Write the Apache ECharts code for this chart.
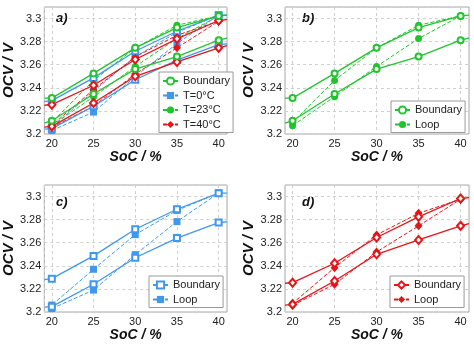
<!DOCTYPE html>
<html>
<head>
<meta charset="utf-8">
<script src="https://cdn.jsdelivr.net/npm/echarts@6/dist/echarts.min.js"></script>
<style>
  html, body { margin: 0; padding: 0; background: #fff; }
  #chart { width: 474px; height: 345px; }
</style>
</head>
<body>
<div id="chart"></div>
<script>
// State of charge sample points (%)
const soc = [20, 25, 30, 35, 40];
const X_MIN = 19.1, X_MAX = 41;
const Y_MIN = 3.2, Y_MAX = 3.31;

// T = 23 °C (green)
const g_bUpper = [3.2311, 3.2525, 3.2746, 3.2922, 3.3023];
const g_bLower = [3.2115, 3.2346, 3.2562, 3.2671, 3.2813];
const g_bUpperEdge = [3.2310, 3.3030];   // value at left / right plot edge
const g_bLowerEdge = [3.2095, 3.2830];
const g_charge = [3.2072, 3.2323, 3.2585, 3.2827, 3.3023];
const g_discharge = [3.2101, 3.2464, 3.2746, 3.2942, 3.3023];

// T = 0 °C (blue)
const b_bUpper = [3.2289, 3.2486, 3.2717, 3.2890, 3.3029];
const b_bLower = [3.2046, 3.2240, 3.2470, 3.2640, 3.2775];
const b_bUpperEdge = [3.2280, 3.3030];
const b_bLowerEdge = [3.2043, 3.2780];
const b_charge = [3.2030, 3.2190, 3.2497, 3.2783, 3.3030];
const b_discharge = [3.2060, 3.2370, 3.2670, 3.2880, 3.3030];

// T = 40 °C (red)
const r_bUpper = [3.2254, 3.2422, 3.2645, 3.2824, 3.2983];
const r_bLower = [3.2066, 3.2269, 3.2500, 3.2624, 3.2746];
const r_bUpperEdge = [3.2249, 3.2990];
const r_bLowerEdge = [3.2060, 3.2766];
const r_charge = [3.2058, 3.2240, 3.2520, 3.2746, 3.2977];
const r_discharge = [3.2075, 3.2384, 3.2668, 3.2855, 3.2977];

const GREEN = '#22c42e', BLUE = '#3f98ee', RED = '#e8141a';
const FONT = 'Liberation Sans, Arial, sans-serif';

const grids = [
  { left: 42, top: 7,   width: 185, height: 127 },  // a
  { left: 285, top: 7,  width: 184, height: 127 },  // b
  { left: 42, top: 185, width: 185, height: 127 },  // c
  { left: 285, top: 185, width: 184, height: 127 }  // d
];

function xAxis(i) {
  return {
    type: 'value', gridIndex: i, min: X_MIN, max: X_MAX,
    name: 'SoC / %', nameLocation: 'middle', nameGap: 15,
    nameTextStyle: { fontFamily: FONT, fontSize: 14, fontWeight: 'bold', fontStyle: 'italic', color: '#111' },
    axisLine: { show: false }, axisTick: { show: false },
    axisLabel: { fontFamily: FONT, fontSize: 11, color: '#222', margin: 4, showMinLabel: false, showMaxLabel: false },
    splitLine: { show: true, lineStyle: { color: '#cfcfcf', type: [3, 3], width: 1 } }
  };
}
function yAxis(i) {
  return {
    type: 'value', gridIndex: i, min: Y_MIN, max: Y_MAX, interval: 0.02,
    name: 'OCV / V', nameLocation: 'middle', nameGap: 23, nameRotate: 90,
    nameTextStyle: { fontFamily: FONT, fontSize: 15, fontWeight: 'bold', fontStyle: 'italic', color: '#111' },
    axisLine: { show: false }, axisTick: { show: false },
    axisLabel: { fontFamily: FONT, fontSize: 11, color: '#222', margin: 3, showMaxLabel: false },
    splitLine: { show: true, lineStyle: { color: '#cfcfcf', type: [3, 3], width: 1 } }
  };
}

function boundary(name, gi, color, symbol, vals, edge) {
  const data = [{ value: [X_MIN, edge[0]], symbol: 'none' }]
    .concat(soc.map((s, k) => [s, vals[k]]))
    .concat([{ value: [X_MAX, edge[1]], symbol: 'none' }]);
  return {
    type: 'line', name, xAxisIndex: gi, yAxisIndex: gi, data,
    symbol, symbolSize: symbol.indexOf('Diamond') >= 0 ? [7, 8] : 6,
    color, lineStyle: { color, width: 1.3 },
    itemStyle: { color, borderWidth: 1.2 },
    animation: false, z: 3
  };
}
function loop(name, gi, color, symbol, charge, discharge) {
  const data = soc.map((s, k) => [s, charge[k]])
    .concat(soc.slice().reverse().map((s, k) => [s, discharge[soc.length - 1 - k]]));
  return {
    type: 'line', name, xAxisIndex: gi, yAxisIndex: gi, data,
    symbol, symbolSize: symbol === 'diamond' ? [8, 9] : 7,
    color, lineStyle: { color, width: 1, type: [4, 2] },
    itemStyle: { color },
    animation: false, z: 2
  };
}

const series = [
  // a) all temperatures together
  loop('T=0°C', 0, BLUE, 'rect', b_charge, b_discharge),
  loop('T=23°C', 0, GREEN, 'circle', g_charge, g_discharge),
  loop('T=40°C', 0, RED, 'diamond', r_charge, r_discharge),
  boundary('Boundary 0 °C', 0, BLUE, 'emptyRect', b_bUpper, b_bUpperEdge),
  boundary('Boundary 0 °C', 0, BLUE, 'emptyRect', b_bLower, b_bLowerEdge),
  boundary('Boundary 40 °C', 0, RED, 'emptyDiamond', r_bUpper, r_bUpperEdge),
  boundary('Boundary 40 °C', 0, RED, 'emptyDiamond', r_bLower, r_bLowerEdge),
  boundary('Boundary 23 °C', 0, GREEN, 'emptyCircle', g_bUpper, g_bUpperEdge),
  boundary('Boundary 23 °C', 0, GREEN, 'emptyCircle', g_bLower, g_bLowerEdge),
  // b) 23 °C
  loop('Loop 23 °C', 1, GREEN, 'circle', g_charge, g_discharge),
  boundary('Boundary 23 °C', 1, GREEN, 'emptyCircle', g_bUpper, g_bUpperEdge),
  boundary('Boundary 23 °C', 1, GREEN, 'emptyCircle', g_bLower, g_bLowerEdge),
  // c) 0 °C
  loop('Loop 0 °C', 2, BLUE, 'rect', b_charge, b_discharge),
  boundary('Boundary 0 °C', 2, BLUE, 'emptyRect', b_bUpper, b_bUpperEdge),
  boundary('Boundary 0 °C', 2, BLUE, 'emptyRect', b_bLower, b_bLowerEdge),
  // d) 40 °C
  loop('Loop 40 °C', 3, RED, 'diamond', r_charge, r_discharge),
  boundary('Boundary 40 °C', 3, RED, 'emptyDiamond', r_bUpper, r_bUpperEdge),
  boundary('Boundary 40 °C', 3, RED, 'emptyDiamond', r_bLower, r_bLowerEdge)
];

function legend(left, top, names) {
  return {
    left, top, orient: 'vertical', data: names,
    backgroundColor: '#fff', borderColor: '#9a9a9a', borderWidth: 1, borderRadius: 0,
    padding: [3, 3, 2, 3], itemGap: 2.5, itemWidth: 15, itemHeight: 9,
    selectedMode: false,
    textStyle: { fontFamily: FONT, fontSize: 11, color: '#222', lineHeight: 12 },
    formatter: n => n.startsWith('Boundary') ? 'Boundary' : (n.startsWith('Loop') ? 'Loop' : n)
  };
}

const panelLabel = (left, top, text) => ({
  type: 'text', left, top,
  style: { text, fontFamily: FONT, fontSize: 13, fontWeight: 'bold', fontStyle: 'italic', fill: '#111' }
});

const option = {
  backgroundColor: '#fff',
  animation: false,
  grid: grids.map(g => Object.assign({ show: true, borderColor: '#a8a8a8', borderWidth: 1, backgroundColor: 'transparent' }, g)),
  xAxis: [0, 1, 2, 3].map(xAxis),
  yAxis: [0, 1, 2, 3].map(yAxis),
  series,
  legend: [
    legend(159, 72, ['Boundary 23 °C', 'T=0°C', 'T=23°C', 'T=40°C']),
    legend(391, 101, ['Boundary 23 °C', 'Loop 23 °C']),
    legend(149, 276, ['Boundary 0 °C', 'Loop 0 °C']),
    legend(390, 276, ['Boundary 40 °C', 'Loop 40 °C'])
  ],
  graphic: [
    panelLabel(56, 12, 'a)'),
    panelLabel(302, 12, 'b)'),
    panelLabel(56, 196, 'c)'),
    panelLabel(302, 196, 'd)')
  ]
};

const chart = echarts.init(document.getElementById('chart'), null, { renderer: 'canvas' });
chart.setOption(option);
</script>
</body>
</html>
